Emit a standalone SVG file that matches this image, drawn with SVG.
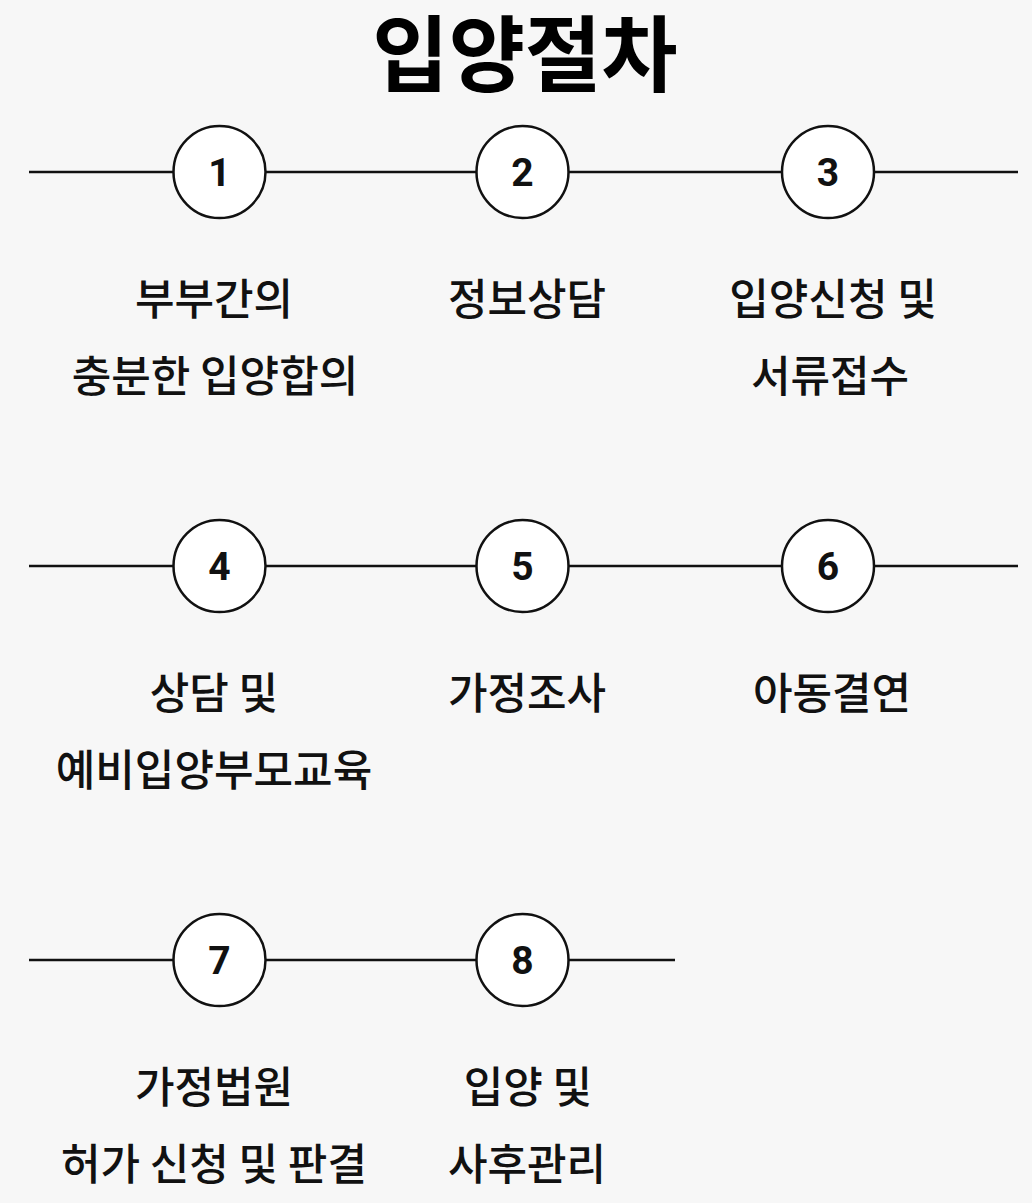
<svg xmlns="http://www.w3.org/2000/svg" width="1032" height="1203" viewBox="0 0 1032 1203">
<style>
.bg{fill:#f7f7f7}
.ln{stroke:#111;stroke-width:2.5;fill:none}
.c{fill:#fff;stroke:#111;stroke-width:2.5}
.n{font-family:Roboto,"Noto Sans",sans-serif;font-weight:700;font-size:39px;fill:#111;text-anchor:middle}
.t{font-family:"Noto Sans CJK KR","Noto Sans",sans-serif;font-weight:500;font-size:43px;fill:#111;text-anchor:middle}
.h{font-family:"Noto Sans CJK KR","Noto Sans",sans-serif;font-weight:700;font-size:83px;fill:#000;text-anchor:middle}
</style>
<rect class="bg" x="0" y="0" width="1032" height="1203"/>
<text id="title" class="h" x="525" y="85">입양절차</text>
<g id="connectors">
<line class="ln" x1="29" y1="172" x2="1018" y2="172"/>
<line class="ln" x1="29" y1="566" x2="1018" y2="566"/>
<line class="ln" x1="29" y1="960" x2="675" y2="960"/>
</g>
<g id="step1"><circle class="c" cx="219.5" cy="172" r="46"/><text class="n" x="219.5" y="186">1</text>
<text class="t" x="214" y="315">부부간의</text><text class="t" x="215" y="392">충분한 입양합의</text></g>
<g id="step2"><circle class="c" cx="522.5" cy="172" r="46"/><text class="n" x="522.5" y="186">2</text>
<text class="t" x="527" y="315">정보상담</text></g>
<g id="step3"><circle class="c" cx="828" cy="172" r="46"/><text class="n" x="828" y="186">3</text>
<text class="t" x="833" y="315">입양신청 및</text><text class="t" x="830" y="392">서류접수</text></g>
<g id="step4"><circle class="c" cx="219.5" cy="566" r="46"/><text class="n" x="219.5" y="580">4</text>
<text class="t" x="214" y="709">상담 및</text><text class="t" x="214" y="786">예비입양부모교육</text></g>
<g id="step5"><circle class="c" cx="522.5" cy="566" r="46"/><text class="n" x="522.5" y="580">5</text>
<text class="t" x="527" y="709">가정조사</text></g>
<g id="step6"><circle class="c" cx="828" cy="566" r="46"/><text class="n" x="828" y="580">6</text>
<text class="t" x="832" y="709">아동결연</text></g>
<g id="step7"><circle class="c" cx="219.5" cy="960" r="46"/><text class="n" x="219.5" y="974">7</text>
<text class="t" x="214" y="1103">가정법원</text><text class="t" x="214" y="1180">허가 신청 및 판결</text></g>
<g id="step8"><circle class="c" cx="522.5" cy="960" r="46"/><text class="n" x="522.5" y="974">8</text>
<text class="t" x="528" y="1103">입양 및</text><text class="t" x="527" y="1180">사후관리</text></g>
</svg>
